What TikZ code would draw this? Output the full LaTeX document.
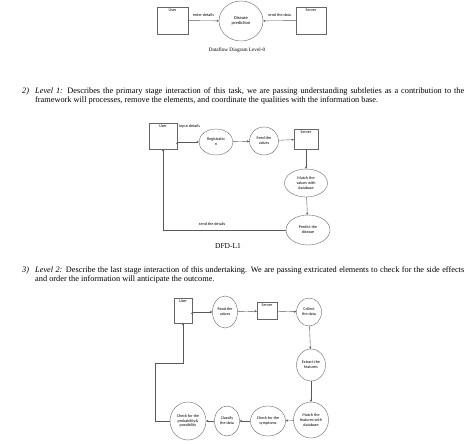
\documentclass[tikz,border=0pt]{standalone}
\usepackage{fontspec}
\setmainfont{Liberation Serif}
\newfontfamily\dfdfont{Carlito}
\usetikzlibrary{arrows.meta,shapes.geometric,positioning}

\begin{document}
\begin{tikzpicture}[x=1pt, y=-1pt, >={Stealth[length=2.2pt,width=2.2pt]},
                    entity/.style={draw=black!60, line width=0.4pt, inner sep=0pt},
                    process/.style={ellipse, draw=black!60, line width=0.4pt, inner sep=0pt,
                                    align=center, font=\dfdfont\fontsize{4.1}{4.9}\selectfont},
                    inbox/.style={anchor=north, inner sep=1.5pt, font=\dfdfont\fontsize{4.1}{4.9}\selectfont},
                    flow/.style={draw=black!65, line width=0.4pt},
                    flowtext/.style={font=\dfdfont\fontsize{4.1}{4.9}\selectfont, inner sep=0pt},
                    para/.style={anchor=base west, inner sep=0pt, font=\fontsize{8.3}{10}\selectfont}]
    \fill[white] (0,0) rectangle (474,444);
    \useasboundingbox (0,0) rectangle (474,444);

   % Level 0
   \node[entity, minimum width=31pt, minimum height=27pt,
         label={[inbox]north:User}] (user0) at (172.5,20.5) {};
   \node[process, minimum width=44pt, minimum height=40pt,
         font=\dfdfont\fontsize{4.5}{5.4}\selectfont] (disease0) at (241,21) {Disease\\prediction};
   \node[entity, minimum width=30pt, minimum height=27pt,
         label={[inbox]north:Server}] (server0) at (311,20.5) {};
   \node[font=\fontsize{5.2}{6}\selectfont, inner sep=0pt] (caption0) at (237,50) {Dataflow Diagram Level-0};

   \path[flow,->]
    (user0) edge node [flowtext, above=4pt] {enter details} (disease0)
    (server0) edge node [flowtext, above=4pt] {send the data} (disease0);

   % Level 1 text
   \node[para] (num2) at (22,93) {\textit{2)}};
   \node[para] (line2a) at (35,93) {\makebox[429pt][s]{\textit{Level 1:} Describes the primary stage interaction of this task, we are passing understanding subtleties as a contribution to the}};
   \node[para] (line2b) at (35,102.5) {framework will processes, remove the elements, and coordinate the qualities with the information base.};

   % Level 1
   \node[entity, minimum width=28pt, minimum height=26pt,
         label={[inbox]north:User}] (user1) at (163,136) {};
   \node[flowtext, anchor=west] (input1) at (179,126) {Input details};
   \node[process, minimum width=34pt, minimum height=26pt] (reg1) at (216,142) {Registratio\\n};
   \node[process, minimum width=29pt, minimum height=28pt] (feed1) at (264,141) {Feed the\\values};
   \node[entity, minimum width=24pt, minimum height=20pt,
         label={[inbox]north:Server}] (server1) at (306,139) {};
   \node[process, minimum width=43pt, minimum height=28pt] (match1) at (306,183) {Match the\\values with\\database};
   \node[process, minimum width=44pt, minimum height=30pt] (predict1) at (308,230) {Predict the\\disease};
   \node[font=\fontsize{7.5}{8}\selectfont, inner sep=0pt] (caption1) at (228,246) {DFD-L1};

   \path[flow,->]
    (user1.east |- reg1) edge (reg1)
    (reg1) edge (feed1)
    (feed1) edge (server1)
    (server1) edge (match1)
    (match1) edge (predict1);
   \draw[flow,->] (predict1.west) -| node [flowtext, pos=0.3, above=4pt] {send the details} (user1.south);

   % Level 2 text
   \node[para] (num3) at (22,272) {\textit{3)}};
   \node[para] (line3a) at (35,272) {\makebox[429pt][s]{\textit{Level 2:} Describe the last stage interaction of this undertaking. We are passing extricated elements to check for the side effects}};
   \node[para] (line3b) at (35,281.5) {and order the information will anticipate the outcome.};

   % Level 2
   \node[entity, minimum width=18pt, minimum height=25pt,
         label={[inbox]north:User}] (user2) at (183,310.5) {};
   \node[process, minimum width=25pt, minimum height=32pt] (read2) at (225,312) {Read the\\values};
   \node[entity, minimum width=20pt, minimum height=17pt,
         label={[inbox]north:Server}] (server2) at (267,311) {};
   \node[process, minimum width=25pt, minimum height=28pt] (collect2) at (309,312) {Collect\\the data};
   \node[process, minimum width=29pt, minimum height=32pt] (extract2) at (311,365) {Extract the\\features};
   \node[process, minimum width=35pt, minimum height=36pt] (match2) at (311,420) {Match the\\features with\\database};
   \node[process, minimum width=35pt, minimum height=30pt] (symp2) at (268,421) {Check for the\\symptoms};
   \node[process, minimum width=25pt, minimum height=30pt] (classify2) at (227,421) {Classify\\the data};
   \node[process, minimum width=36pt, minimum height=38pt] (prob2) at (188,421) {Check for the\\probability\&\\possibility};
   \coordinate (back2) at (155,363);

   \path[flow,->]
    (user2.east |- read2) edge (read2)
    (read2) edge (server2)
    (server2) edge (collect2)
    (collect2) edge (extract2)
    (extract2) edge (match2)
    (match2) edge (symp2)
    (symp2) edge (classify2)
    (classify2) edge (prob2);
   \draw[flow,->] (prob2.west) -| (back2) -| (user2.south);

\end{tikzpicture}
\end{document}
